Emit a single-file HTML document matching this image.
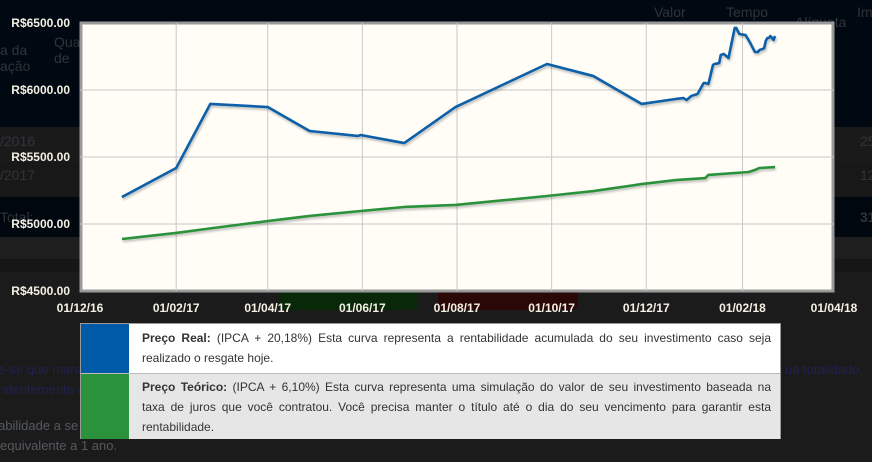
<!DOCTYPE html>
<html><head><meta charset="utf-8">
<style>
body{margin:0;width:872px;height:462px;overflow:hidden;background:#1b1b1b;font-family:"Liberation Sans",sans-serif;position:relative}
.bg{position:absolute;left:0;width:872px}
.t{position:absolute;color:#30343a;font-size:14px;white-space:nowrap}
.lt{position:absolute;color:#1e2250;font-size:13px;white-space:nowrap}
#legend{position:absolute;left:80px;top:323px;width:699px;height:114px;border:1px solid #999;font-size:12px;color:#333;line-height:20px}
.row{position:absolute;left:0;width:699px}
.sw{position:absolute;left:0;top:0;width:48px;height:100%}
.txt{position:absolute;left:61px;right:9px}
.j{text-align:justify;text-align-last:justify;white-space:nowrap}
</style></head><body>
<div class="bg" style="top:0;height:127px;background:#000811"></div>
<div class="bg" style="top:127px;height:35px;background:#1a1a1a"></div>
<div class="bg" style="top:162px;height:35px;background:#181818"></div>
<div class="bg" style="top:197px;height:40px;background:#00070e"></div>
<div class="bg" style="top:237px;height:22px;background:#1e1e1e"></div>
<div class="bg" style="top:259px;height:13px;background:#161616"></div>
<div style="position:absolute;left:279px;top:270px;width:139px;height:40px;background:#082808;border-radius:6px"></div>
<div style="position:absolute;left:438px;top:270px;width:140px;height:40px;background:#2a0808;border-radius:6px"></div>
<div class="t" style="left:0;top:42px">a da<br>ação</div>
<div class="t" style="left:54px;top:34px">Qua<br>de</div>
<div class="t" style="left:654px;top:4px">Valor</div>
<div class="t" style="left:726px;top:4px">Tempo</div>
<div class="t" style="left:795px;top:14px">Alíquota</div>
<div class="t" style="left:857px;top:4px">Im</div>
<div class="t" style="left:0;top:133px">/2016</div>
<div class="t" style="left:0;top:167px">/2017</div>
<div class="t" style="left:0;top:209px">Total:</div>
<div class="t" style="left:860px;top:133px">25</div>
<div class="t" style="left:860px;top:167px">12</div>
<div class="t" style="left:860px;top:209px;font-weight:bold">31</div>
<div class="lt" style="left:-2px;top:362px">e-se que mant</div>
<div class="lt" style="left:785px;top:362px">ua totalidade,</div>
<div class="lt" style="left:-2px;top:382px">ndentemente d</div>
<div class="t" style="left:-2px;top:418px;font-size:13px;color:#55595e">abilidade a se</div>
<div class="t" style="left:0;top:438px;font-size:13px;color:#55595e">equivalente a 1 ano.</div>

<svg id="chart" width="872" height="462" style="position:absolute;left:0;top:0">
<defs><filter id="sh" x="-5%" y="-5%" width="110%" height="120%"><feDropShadow dx="1" dy="2" stdDeviation="1" flood-color="#000" flood-opacity="0.25"/></filter></defs>
<rect x="81" y="23" width="752" height="268" fill="#fffdf6" stroke="#9a9a9a" stroke-width="3"/>
<g id="grid"></g><g id="series"></g><g id="labels"></g>
</svg>

<div id="legend">
 <div class="row" style="top:0;height:49px;background:#fff">
  <div class="sw" style="background:#005aa8"></div>
  <div class="txt" style="top:4px">
   <div class="j"><b>Preço Real:</b> (IPCA + 20,18%) Esta curva representa a rentabilidade acumulada do seu investimento caso seja</div>
   <div>realizado o resgate hoje.</div>
  </div>
 </div>
 <div class="row" style="top:49px;height:65px;background:#e6e6e6;border-top:1px solid #bbb">
  <div class="sw" style="background:#2a923a"></div>
  <div class="txt" style="top:3px">
   <div class="j"><b>Preço Teórico:</b> (IPCA + 6,10%) Esta curva representa uma simulação do valor de seu investimento baseada na</div>
   <div class="j">taxa de juros que você contratou. Você precisa manter o título até o dia do seu vencimento para garantir esta</div>
   <div>rentabilidade.</div>
  </div>
 </div>
</div>

<script>
const xTickLabels=["01/12/16","01/02/17","01/04/17","01/06/17","01/08/17","01/10/17","01/12/17","01/02/18","01/04/18"];
const xTickDays=[0,62,121,182,243,304,365,427,486];
const yTicks=[4500,5000,5500,6000,6500];
const realDays=[27,62,84,121,148,179,181,209,242,301,331,362,384,389,391,394,396,398,402,403,405,406,408,409,412,413,415,418,422,423,425,429,432,433,435,437,438,440,441,442,443,444,445,447,448];
const realValues=[5201,5418,5896,5873,5694,5657,5664,5604,5873,6194,6104,5896,5933,5940,5925,5955,5963,5970,6052,6052,6045,6090,6187,6194,6201,6261,6269,6239,6463,6463,6418,6410,6351,6328,6284,6284,6299,6306,6313,6366,6388,6388,6403,6373,6403,6410];
const theoDays=[27,62,86,121,148,181,209,242,301,331,362,384,403,405,431,435,438,448];
const theoValues=[4888,4933,4970,5022,5060,5097,5127,5142,5209,5246,5298,5328,5343,5366,5388,5403,5418,5425];
const NS="http://www.w3.org/2000/svg";
const X0=80,X1=834,Y0=291,Y1=23,DMAX=486,VMIN=4500,VMAX=6500;
const sx=d=>X0+(d/DMAX)*(X1-X0);
const sy=v=>Y0-(v-VMIN)/(VMAX-VMIN)*(Y0-Y1);
function mk(t,a){const e=document.createElementNS(NS,t);for(const k in a)e.setAttribute(k,a[k]);return e;}
const grid=document.getElementById('grid'),labels=document.getElementById('labels'),series=document.getElementById('series');
xTickDays.forEach((d,i)=>{
  if(i>0&&i<xTickDays.length-1){const l=mk('line',{x1:sx(d),x2:sx(d),y1:Y1,y2:Y0,stroke:'#c8c8c8','stroke-width':1});
  
  
  grid.appendChild(l);}
  const t=mk('text',{x:sx(d),y:312,'text-anchor':'middle','font-size':12,'font-weight':'bold',fill:'#f4f0e4','font-family':'Liberation Sans, sans-serif'});
  
  
  t.textContent=xTickLabels[i];labels.appendChild(t);
});
yTicks.forEach(v=>{
  if(v>VMIN&&v<VMAX){const l=mk('line',{x1:X0,x2:X1,y1:sy(v),y2:sy(v),stroke:'#c8c8c8','stroke-width':1});
  
  
  grid.appendChild(l);}
  const t=mk('text',{x:70,y:sy(v)+4,'text-anchor':'end','font-size':12,'font-weight':'bold',fill:'#f4f0e4','font-family':'Liberation Sans, sans-serif'});
  
  
  t.textContent='R$'+v.toFixed(2);labels.appendChild(t);
});
function line(days,vals,color,name){
  const p=mk('polyline',{points:days.map((d,i)=>sx(d)+','+sy(vals[i])).join(' '),fill:'none',stroke:color,'stroke-width':2.6,'stroke-linejoin':'round',filter:'url(#sh)'});
  
  
  series.appendChild(p);
}
line(theoDays,theoValues,'#2a923a','theoretical-price-line');
line(realDays,realValues,'#0a5ea8','real-price-line');
</script>
</body></html>
